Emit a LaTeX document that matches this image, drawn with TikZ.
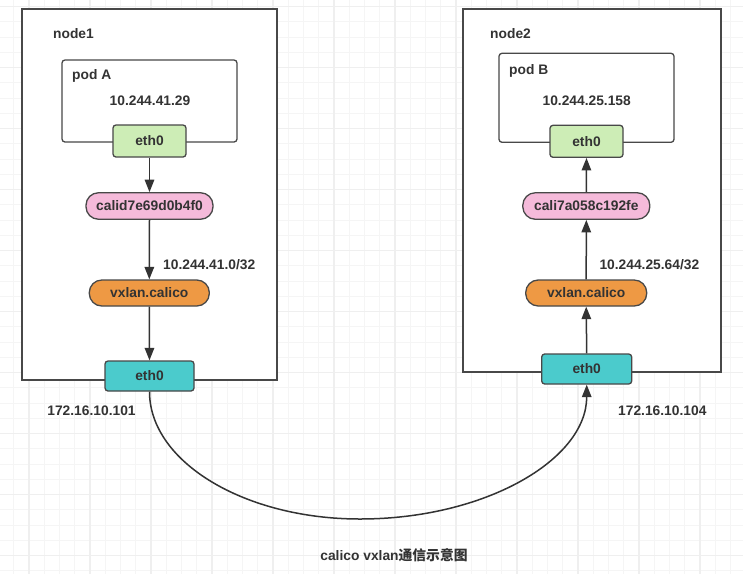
\documentclass[tikz,border=0pt]{standalone}
\usepackage{fontspec}
\setmainfont{Liberation Sans}
\newfontfamily\cjk{Noto Sans CJK SC}
\usetikzlibrary{arrows.meta}
\definecolor{edge}{HTML}{484848}
\definecolor{arrc}{HTML}{333333}
\definecolor{txt}{HTML}{333333}
\definecolor{gminor}{HTML}{F5F5F5}
\definecolor{gmajor}{HTML}{EFEFEF}
\definecolor{ethgreen}{HTML}{CDEDB6}
\definecolor{calipink}{HTML}{F5BADA}
\definecolor{vxorange}{HTML}{EE9944}
\definecolor{ethteal}{HTML}{4BCBCC}
\begin{document}
\begin{tikzpicture}[x=1pt,y=-1pt,
  tfont/.style={font=\bfseries\fontsize{13.8}{16}\selectfont, text=txt, text height=9.8pt, text depth=0pt},
  lbl/.style={tfont, inner sep=0pt},
  hostbox/.style={draw=edge, line width=1.5pt, fill=white, inner sep=0pt},
  podbox/.style={draw=edge, line width=1.3pt, rounded corners=3pt, fill=white, inner sep=0pt},
  ifc/.style={tfont, draw=edge, line width=1.3pt, rounded corners=3pt, inner sep=0pt},
  pill/.style={tfont, draw=edge, line width=1.3pt, rounded corners=12.5pt, inner sep=0pt},
  arr/.style={draw=arrc, line width=1.5pt, -{Triangle[length=12.5pt,width=9.5pt]}}
]
\useasboundingbox (0,0) rectangle (743,574);
\fill[white] (0,0) rectangle (743,574);
% grid
\foreach \i in {0,...,48} {
  \pgfmathsetmacro{\gx}{13.75+15.25*\i}
  \draw[gminor, line width=1pt] (\gx,0) -- (\gx,574);
}
\foreach \i in {0,...,37} {
  \pgfmathsetmacro{\gy}{6.7+15.25*\i}
  \draw[gminor, line width=1pt] (0,\gy) -- (743,\gy);
}
\foreach \i in {0,...,11} {
  \pgfmathsetmacro{\gx}{29+61*\i}
  \draw[gmajor, line width=1.3pt] (\gx,0) -- (\gx,574);
}
\foreach \i in {0,...,9} {
  \pgfmathsetmacro{\gy}{6.7+61*\i}
  \draw[gmajor, line width=1.3pt] (0,\gy) -- (743,\gy);
}

% host boxes
\node[hostbox, minimum width=255pt, minimum height=371pt] (n1) at (149.5,194.5) {};
\node[hostbox, minimum width=258pt, minimum height=363pt] (n2) at (592,190.5) {};
\node[lbl, anchor=west] (n1lbl) at (53,34) {node1};
\node[lbl, anchor=west] (n2lbl) at (490,34) {node2};

% pods
\node[podbox, minimum width=175pt, minimum height=82pt] (podA) at (149.5,101) {};
\node[podbox, minimum width=175pt, minimum height=89pt] (podB) at (586.5,97.8) {};
\node[lbl, anchor=west] (podAlbl) at (72,75) {pod A};
\node[lbl, anchor=west] (podBlbl) at (509,70) {pod B};
\node[lbl] (ipA) at (150,101) {10.244.41.29};
\node[lbl] (ipB) at (586.7,101) {10.244.25.158};

% interfaces node1
\node[ifc, fill=ethgreen, minimum width=73pt, minimum height=32pt] (ethA1) at (149.5,141) {eth0};
\node[pill, fill=calipink, minimum width=127pt, minimum height=26.5pt] (calA) at (149.5,206) {calid7e69d0b4f0};
\node[pill, fill=vxorange, minimum width=120pt, minimum height=26pt] (vxA) at (149.3,293) {vxlan.calico};
\node[ifc, fill=ethteal, minimum width=89pt, minimum height=30pt] (ethA2) at (149.5,376) {eth0};

% interfaces node2
\node[ifc, fill=ethgreen, minimum width=73pt, minimum height=32pt] (ethB1) at (586.5,141.3) {eth0};
\node[pill, fill=calipink, minimum width=127pt, minimum height=26.5pt] (calB) at (586.3,206) {cali7a058c192fe};
\node[pill, fill=vxorange, minimum width=121pt, minimum height=26pt] (vxB) at (586.2,293) {vxlan.calico};
\node[ifc, fill=ethteal, minimum width=90pt, minimum height=30pt] (ethB2) at (586.7,369) {eth0};

% labels
\node[lbl, anchor=west] (routeA) at (163,264.3) {10.244.41.0/32};
\node[lbl, anchor=west] (routeB) at (599.3,264.3) {10.244.25.64/32};
\node[lbl] (hostA) at (91.5,411) {172.16.10.101};
\node[lbl, anchor=west] (hostB) at (618,411) {172.16.10.104};
\node[lbl] (caption) at (394,556) {calico vxlan{\cjk\bfseries 通信示意图}};

% arrows
\draw[arr] (ethA1.south) -- (calA.north);
\draw[arr] (calA.south) -- (vxA.north);
\draw[arr] (vxA.south) -- (ethA2.north);
\draw[arr] (ethB2.north) -- (vxB.south);
\draw[arr] (vxB.north) -- (calB.south);
\draw[arr] (calB.north) -- (ethB1.south);
\coordinate (low) at (360,519);
\draw[arr] (ethA2.south) .. controls +(0,70) and +(-116,0) .. (low) .. controls +(125,0) and +(0,75) .. (ethB2.south);
\end{tikzpicture}
\end{document}
